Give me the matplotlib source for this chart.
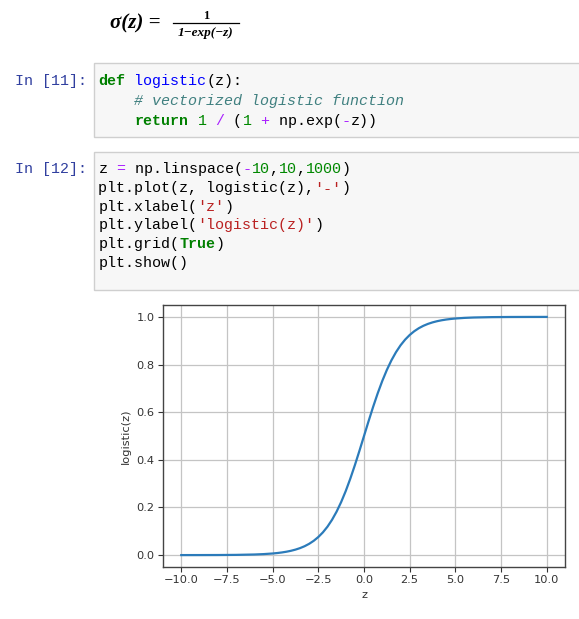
import matplotlib
matplotlib.use("Agg")
import matplotlib.pyplot as plt
from matplotlib.patches import Rectangle
from matplotlib.lines import Line2D

# ---- data ----
z_values = [-10.0, -9.0, -8.0, -7.0, -6.0, -5.5,
            -5.0, -4.75, -4.5, -4.25, -4.0, -3.75, -3.5, -3.25, -3.0, -2.75,
            -2.5, -2.25, -2.0, -1.75, -1.5, -1.25, -1.0, -0.75, -0.5, -0.25,
            0.0, 0.25, 0.5, 0.75, 1.0, 1.25, 1.5, 1.75, 2.0, 2.25, 2.5,
            2.75, 3.0, 3.25, 3.5, 3.75, 4.0, 4.25, 4.5, 4.75, 5.0,
            5.5, 6.0, 7.0, 8.0, 9.0, 10.0]
logistic_values = [0.0000, 0.0001, 0.0003, 0.0009, 0.0025, 0.0041,
                   0.0067, 0.0086, 0.0110, 0.0141, 0.0180, 0.0230, 0.0293, 0.0373, 0.0474, 0.0601,
                   0.0759, 0.0954, 0.1192, 0.1481, 0.1824, 0.2227, 0.2689, 0.3208, 0.3775, 0.4378,
                   0.5000, 0.5622, 0.6225, 0.6792, 0.7311, 0.7773, 0.8176, 0.8519, 0.8808, 0.9046, 0.9241,
                   0.9399, 0.9526, 0.9627, 0.9707, 0.9770, 0.9820, 0.9859, 0.9890, 0.9914, 0.9933,
                   0.9959, 0.9975, 0.9991, 0.9997, 0.9999, 1.0000]
x_ticks = [-10.0, -7.5, -5.0, -2.5, 0.0, 2.5, 5.0, 7.5, 10.0]
y_ticks = [0.0, 0.2, 0.4, 0.6, 0.8, 1.0]

W, H = 579, 619
fig = plt.figure(figsize=(W / 100, H / 100), dpi=100)
fig.patch.set_facecolor("white")


def fx(px):
    return px / W


def fy(py):
    return 1 - py / H


# ---- formula header ----
fig.text(fx(110), fy(28), "σ(z) =", family="Liberation Serif", weight="bold",
         style="italic", fontsize=15, va="baseline", ha="left")
fig.text(fx(206), fy(19), "1", family="Liberation Serif", weight="bold",
         fontsize=9, va="baseline", ha="center")
fig.add_artist(Line2D([fx(173), fx(239)], [fy(23), fy(23)], color="black",
                      lw=0.9, transform=fig.transFigure))
fig.text(fx(206), fy(36), "1−exp(−z)", family="Liberation Serif", weight="bold",
         style="italic", fontsize=9.5, va="baseline", ha="center")

# ---- code cells ----
MONO = "Liberation Mono"
CW = 9.0          # char width px
FS = 10.8         # pt
X0 = 98.5

GREEN_B = ("#008000", "bold", "normal")
NUM = ("#008800", "normal", "normal")
OP = ("#AA22FF", "normal", "normal")
TXT = ("#000000", "normal", "normal")
FUNC = ("#0000FF", "normal", "normal")
COM = ("#408080", "normal", "italic")
STR = ("#BA2121", "normal", "normal")


def cell_box(top, bottom):
    fig.add_artist(Rectangle((fx(94), fy(bottom)), fx(W + 5) - fx(94), fy(top) - fy(bottom),
                             transform=fig.transFigure, facecolor="#f7f7f7",
                             edgecolor="#cfcfcf", lw=1.0))


def code_line(y_center, tokens):
    col = 0
    for text, (color, weight, style) in tokens:
        fig.text(fx(X0 + col * CW), fy(y_center + 5), text, family=MONO, fontsize=FS,
                 color=color, weight=weight, style=style, va="baseline", ha="left")
        col += len(text)


def prompt(y_center, text):
    fig.text(fx(15), fy(y_center + 5), text, family=MONO, fontsize=FS,
             color="#303F9F", va="baseline", ha="left")


cell_box(63, 137)
prompt(80, "In [11]:")
code_line(80, [("def", GREEN_B), (" ", TXT), ("logistic", FUNC), ("(z):", TXT)])
code_line(100, [("    ", TXT), ("# vectorized logistic function", COM)])
code_line(120, [("    ", TXT), ("return", GREEN_B), (" ", TXT), ("1", NUM), (" ", TXT),
                ("/", OP), (" (", TXT), ("1", NUM), (" ", TXT), ("+", OP),
                (" np.exp(", TXT), ("-", OP), ("z))", TXT)])

cell_box(152, 290)
prompt(168, "In [12]:")
ys = [168, 187, 206, 224.5, 243, 262]
code_line(ys[0], [("z", TXT), (" ", TXT), ("=", OP), (" np.linspace(", TXT), ("-", OP),
                  ("10", NUM), (",", TXT), ("10", NUM), (",", TXT), ("1000", NUM), (")", TXT)])
code_line(ys[1], [("plt.plot(z, logistic(z),", TXT), ("'-'", STR), (")", TXT)])
code_line(ys[2], [("plt.xlabel(", TXT), ("'z'", STR), (")", TXT)])
code_line(ys[3], [("plt.ylabel(", TXT), ("'logistic(z)'", STR), (")", TXT)])
code_line(ys[4], [("plt.grid(", TXT), ("True", GREEN_B), (")", TXT)])
code_line(ys[5], [("plt.show()", TXT)])

# ---- plot ----
left, right, top, bottom = 163, 565, 305, 567
ax = fig.add_axes([fx(left), fy(bottom), fx(right) - fx(left), fy(top) - fy(bottom)])
ax.plot(z_values, logistic_values, '-', color="#2b7bba", lw=1.6)
ax.set_xticks(x_ticks)
ax.set_yticks(y_ticks)
ax.set_xlabel("z", fontsize=8.2, labelpad=3, color="#333333")
ax.set_ylabel("logistic(z)", fontsize=8.2, labelpad=4, color="#333333")
ax.tick_params(labelsize=8.2, length=3.5, width=0.8, pad=2.5, colors="#333333")
ax.grid(True, color="#c4c4c4", lw=0.9)
for s in ax.spines.values():
    s.set_color("#444444")
    s.set_linewidth(1.0)

fig.savefig("out.png", dpi=100)
